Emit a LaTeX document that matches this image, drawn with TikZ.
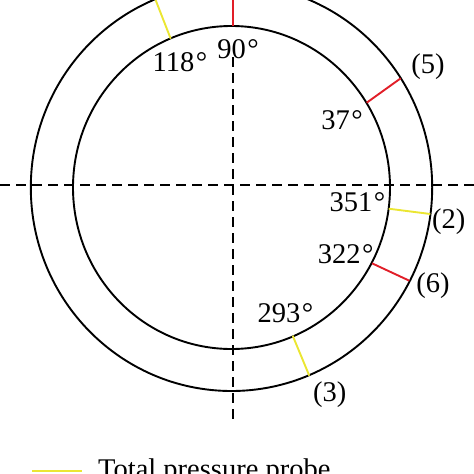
\documentclass[tikz,border=0pt]{standalone}
\usepackage{fontspec}
\setmainfont{Liberation Serif}
\definecolor{probeY}{RGB}{235,230,50}
\definecolor{probeR}{RGB}{225,30,40}
\newcommand{\dg}{\kern1.5pt°}
\begin{document}
\begin{tikzpicture}[x=1pt,y=-1pt,
  ring/.style={line width=1.9pt,black},
  axis/.style={line width=1.9pt,black,dash pattern=on 10pt off 6pt},
  ytube/.style={line width=1.9pt,probeY},
  rtube/.style={line width=1.9pt,probeR},
  lbl/.style={inner sep=0pt,font=\fontsize{28.5}{34}\selectfont}]
\useasboundingbox (0,0) rectangle (474,474);
\clip (0,0) rectangle (474,474);
\coordinate (C) at (231.5,187.5);
% axes
\coordinate (hl) at (0,185);
\coordinate (hr) at (474,185);
\coordinate (vt) at (232.7,57);
\coordinate (vb) at (232.7,420);
\draw[axis] (hl) -- (hr);
\draw[axis] (vt) -- (vb);
% rings
\draw[ring] (C) ellipse [x radius=158.5pt, y radius=161.5pt];
\draw[ring] (C) ellipse [x radius=200.7pt, y radius=203.5pt];
% probe coordinates
\coordinate (i118) at (170.7,38.7);  \coordinate (o118) at (155.3,-0.8);
\coordinate (i90) at (232.7,26);     \coordinate (o90) at (232.7,-16);
\coordinate (i37) at (366.7,102.7);  \coordinate (o37) at (400.7,78.3);
\coordinate (i351) at (388.7,208.7); \coordinate (o351) at (430.3,214);
\coordinate (i322) at (372,263.3);   \coordinate (o322) at (409.3,280.7);
\coordinate (i293) at (292.7,335.7); \coordinate (o293) at (309.3,375.7);
\draw[ytube] (i118) -- (o118);
\draw[rtube] (i90) -- (o90);
\draw[rtube] (i37) -- (o37);
\draw[ytube] (i351) -- (o351);
\draw[rtube] (i322) -- (o322);
\draw[ytube] (i293) -- (o293);
% labels
\node[lbl] (l118) at (180,62.5) {118\dg};
\node[lbl] (l90) at (238,49) {90\dg};
\node[lbl] (l5) at (428,67) {(5)};
\node[lbl] (l37) at (342,120) {37\dg};
\node[lbl] (l351) at (357.5,202.5) {351\dg};
\node[lbl] (l2) at (448.7,221.5) {(2)};
\node[lbl] (l322) at (345.7,254) {322\dg};
\node[lbl] (l6) at (433,286) {(6)};
\node[lbl] (l293) at (285.5,313) {293\dg};
\node[lbl] (l3) at (329.7,394.5) {(3)};
% legend
\coordinate (lg1) at (32,470.7);
\coordinate (lg2) at (82,470.7);
\draw[ytube] (lg1) -- (lg2);
\node[lbl,anchor=base west] (lgt) at (98,478.5) {Total pressure probe};
\end{tikzpicture}
\end{document}
